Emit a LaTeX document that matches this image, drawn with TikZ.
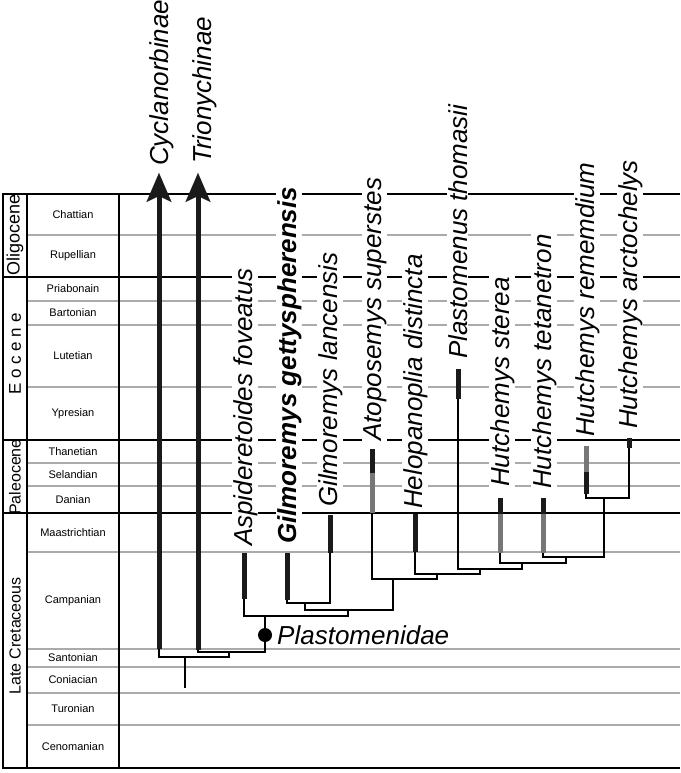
\documentclass[tikz,border=0pt]{standalone}
\usepackage{fontspec}
\setmainfont{Liberation Sans}
\usetikzlibrary{arrows.meta}
\definecolor{gridgray}{HTML}{AAAAAA}
\definecolor{bargray}{HTML}{777777}
\definecolor{barblack}{HTML}{1A1A1A}
\begin{document}
\begin{tikzpicture}[x=1pt,y=-1pt,
  epochline/.style={line width=1.5pt, black},
  stageline/.style={line width=1.3pt, gridgray},
  branch/.style={line width=2pt, black, line cap=butt, line join=miter},
  rangebar/.style={line width=5pt, barblack, line cap=butt},
  rangegray/.style={line width=5pt, bargray, line cap=butt},
  cladearrow/.style={line width=5pt, barblack, line cap=butt,
    -{Stealth[length=29pt,width=25pt,inset=6pt,line width=0.1pt]}},
  taxon/.style={rotate=90, anchor=base west, fill=white, inner sep=1pt,
    font=\fontsize{26}{30}\selectfont\itshape},
  stagelabel/.style={font=\fontsize{11}{13}\selectfont},
  epochlabel/.style={rotate=90, font=\fontsize{16}{19}\selectfont},
]
\useasboundingbox (0,0) rectangle (680,773);
\fill[white] (0,0) rectangle (680,773);

% ---- time grid ----
\foreach \yy in {235,301,325,387,463,486,552,649,667,693,725}
  \draw[stageline] (27,\yy) -- (680,\yy);
\foreach \yy in {194,277,440,513,768}
  \draw[epochline] (3,\yy) -- (680,\yy);
\draw[epochline] (3,194) rectangle (119,768);
\draw[epochline] (27,194) -- (27,768);

% ---- epochs ----
\node[epochlabel, font=\fontsize{18}{21}\selectfont] (oli) at (15,235) {Oligocene};
\node[epochlabel, font=\fontsize{17}{20}\selectfont] (eoc) at (15,354) {E o c e n e};
\node[epochlabel] (pal) at (15,477) {Paleocene};
\node[epochlabel] (lcr) at (15,636) {Late Cretaceous};

% ---- stages ----
\node[stagelabel] (s1) at (73,214.5) {Chattian};
\node[stagelabel] (s2) at (73,256) {Rupellian};
\node[stagelabel] (s3) at (73,289) {Priabonain};
\node[stagelabel] (s4) at (73,313) {Bartonian};
\node[stagelabel] (s5) at (73,356) {Lutetian};
\node[stagelabel] (s6) at (73,413.5) {Ypresian};
\node[stagelabel] (s7) at (73,451.5) {Thanetian};
\node[stagelabel] (s8) at (73,474.5) {Selandian};
\node[stagelabel] (s9) at (73,499.5) {Danian};
\node[stagelabel] (s10) at (73,532.5) {Maastrichtian};
\node[stagelabel] (s11) at (73,600.5) {Campanian};
\node[stagelabel] (s12) at (73,658) {Santonian};
\node[stagelabel] (s13) at (73,680) {Coniacian};
\node[stagelabel] (s14) at (73,709) {Turonian};
\node[stagelabel] (s15) at (73,746.5) {Cenomanian};

% ---- tree coordinates ----
\coordinate (root) at (185,688);
\coordinate (cycB) at (159,649);
\coordinate (cycT) at (159,173);
\coordinate (triB) at (198,650);
\coordinate (triT) at (198,173);
\coordinate (j1) at (229,652);
\coordinate (plasN) at (265,616);
\coordinate (aspB) at (244,599);
\coordinate (aspT) at (244,553);
\coordinate (ggB) at (287,600);
\coordinate (ggT) at (287,553);
\coordinate (glB) at (330,553);
\coordinate (glT) at (330,515);
\coordinate (atB) at (372,513);
\coordinate (atM) at (372,473);
\coordinate (atT) at (372,449);
\coordinate (heB) at (415,552);
\coordinate (heT) at (415,514);
\coordinate (plB) at (458,399);
\coordinate (plT) at (458,369);
\coordinate (hsB) at (500,553);
\coordinate (hsM) at (500,514);
\coordinate (hsT) at (500,498);
\coordinate (htB) at (543,553);
\coordinate (htM) at (543,514);
\coordinate (htT) at (543,498);
\coordinate (hrB) at (586,494);
\coordinate (hrM) at (586,472);
\coordinate (hrT) at (586,446);
\coordinate (haB) at (629,448);
\coordinate (haT) at (629,438);

% ---- branches ----
\draw[branch] (root) -- (185,657);
\draw[branch] (cycB) |- (229,657) -- (j1);
\draw[branch] (triB) |- (265,652) -- (plasN);
\draw[branch] (aspB) |- (348,616) -- (348,610);
\draw[branch] (305,603) -- (305,610) -- (393,610) -- (393,579);
\draw[branch] (ggB) |- (330,603) -- (glB);
\draw[branch] (atB) |- (437,579) -- (437,574);
\draw[branch] (heB) |- (480,574) -- (480,569);
\draw[branch] (plB) |- (522,569) -- (522,563);
\draw[branch] (hsB) |- (566,563) -- (566,557);
\draw[branch] (htB) |- (604,557) -- (604,498);
\draw[branch] (hrB) -- (586,498) -| (haB);

% ---- stratigraphic ranges ----
\draw[cladearrow] (cycB) -- (cycT);
\draw[cladearrow] (triB) -- (triT);
\draw[rangebar] (aspB) -- (aspT);
\draw[rangebar] (ggB) -- (ggT);
\draw[rangebar] (glB) -- (glT);
\draw[rangegray] (atB) -- (atM);
\draw[rangebar] (atM) -- (atT);
\draw[rangebar] (heB) -- (heT);
\draw[rangebar] (plB) -- (plT);
\draw[rangegray] (hsB) -- (hsM);
\draw[rangebar] (hsM) -- (hsT);
\draw[rangegray] (htB) -- (htM);
\draw[rangebar] (htM) -- (htT);
\draw[rangebar] (hrB) -- (hrM);
\draw[rangegray] (hrM) -- (hrT);
\draw[rangebar] (haB) -- (haT);

% ---- Plastomenidae node ----
\fill[black] (265,635) circle (7pt);
\node[anchor=base west, inner sep=0pt, font=\fontsize{26}{30}\selectfont\itshape]
  (plasL) at (277,644) {Plastomenidae};

% ---- taxon labels ----
\node[taxon] (lcyc) at (168,167) {Cyclanorbinae};
\node[taxon] (ltri) at (211,165) {Trionychinae};
\node[taxon] (lasp) at (252,547) {Aspideretoides foveatus};
\node[taxon, font=\fontsize{26}{30}\selectfont\bfseries\itshape] (lgg) at (296,545) {Gilmoremys gettyspherensis};
\node[taxon] (lgl) at (337,508) {Gilmoremys lancensis};
\node[taxon] (lat) at (381,442) {Atoposemys superstes};
\node[taxon] (lhe) at (422,510) {Helopanoplia distincta};
\node[taxon] (lpl) at (467,360) {Plastomenus thomasii};
\node[taxon] (lhs) at (509,488) {Hutchemys sterea};
\node[taxon] (lht) at (551,490) {Hutchemys tetanetron};
\node[taxon] (lhr) at (594,438) {Hutchemys rememdium};
\node[taxon] (lha) at (637,430) {Hutchemys arctochelys};
\end{tikzpicture}
\end{document}
